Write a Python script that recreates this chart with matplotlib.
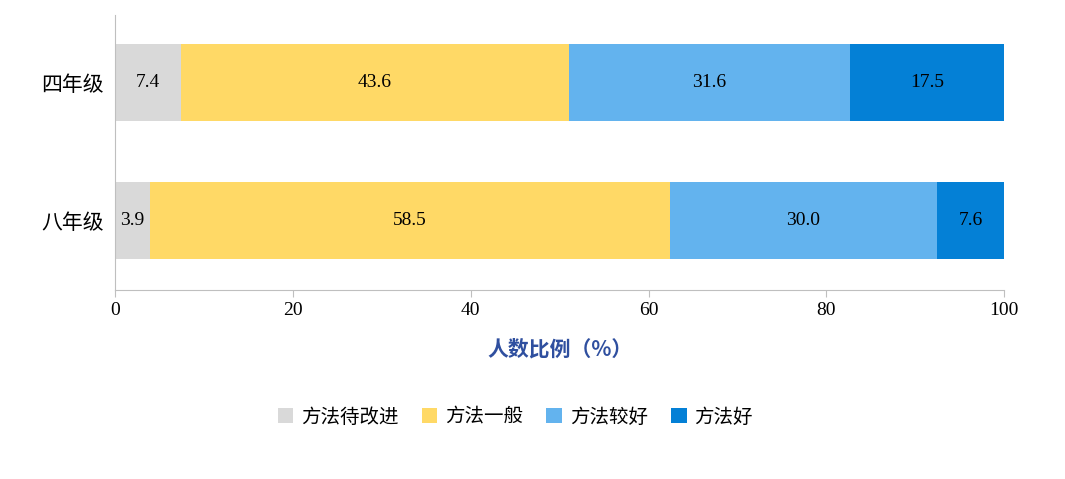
import matplotlib.pyplot as plt

plt.rcParams['font.family'] = ['Noto Sans CJK SC', 'DejaVu Sans']

grades = ["八年级", "四年级"]
series = ["方法待改进", "方法一般", "方法较好", "方法好"]
values = {
    "方法待改进": [3.9, 7.4],
    "方法一般": [58.5, 43.6],
    "方法较好": [30.0, 31.6],
    "方法好": [7.6, 17.5],
}
colors = ["#D9D9D9", "#FFD966", "#63B3EE", "#0480D6"]

fig = plt.figure(figsize=(10.65, 4.79), dpi=100)
ax = fig.add_axes([0.108, 0.3946, 0.835, 0.5745])

ypos = [0, 1]
left = [0, 0]
for name, c in zip(series, colors):
    vals = values[name]
    ax.barh(ypos, vals, left=left, height=0.558, color=c, label=name)
    for y, l, v in zip(ypos, left, vals):
        ax.text(l + v / 2, y, f"{v:.1f}", ha="center", va="center",
                fontsize=14, family="Liberation Serif")
    left = [a + b for a, b in zip(left, vals)]

ax.set_xlim(0, 100)
ax.set_ylim(-0.504, 1.489)
ax.set_yticks(ypos)
ax.set_yticklabels(grades, fontsize=15)
ax.set_xticks(range(0, 101, 20))
ax.set_xticklabels([str(t) for t in range(0, 101, 20)], fontsize=14,
                   family="Liberation Serif")
ax.tick_params(axis="y", length=0, pad=8)
ax.tick_params(axis="x", length=5, color="#BFBFBF")
for s in ["top", "right"]:
    ax.spines[s].set_visible(False)
for s in ["left", "bottom"]:
    ax.spines[s].set_color("#BFBFBF")

ax.set_xlabel("人数比例（%）", fontsize=15, fontweight="bold",
              color="#2F4F9F", labelpad=14)

ax.legend(loc="upper center", bbox_to_anchor=(0.45, -0.36), ncol=4,
          frameon=False, fontsize=14, handlelength=0.8, handleheight=0.8,
          columnspacing=1.2, handletextpad=0.4)

plt.savefig("out.png")
